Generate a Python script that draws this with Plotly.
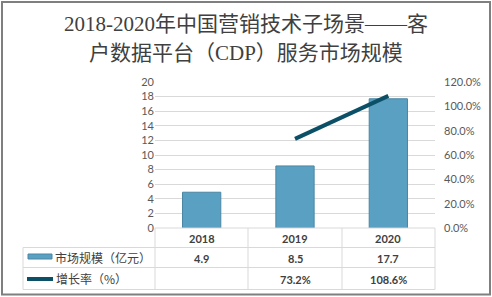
import plotly.graph_objects as go

years = ["2018", "2019", "2020"]
market_size = [4.9, 8.5, 17.7]          # 亿元
growth_rate = [None, 73.2, 108.6]       # %
size_labels = ["4.9", "8.5", "17.7"]
growth_labels = ["", "73.2%", "108.6%"]
left_ticks = list(range(0, 21, 2))
right_ticks = list(range(0, 121, 20))
right_tick_text = ["%.1f%%" % v for v in right_ticks]

W, H = 492, 297
L, R, T, B = 155, 435, 82, 228   # plot area in px

def fx(px):
    return (px - L) / (R - L)

def fy(py):
    return (B - py) / (B - T)

fig = go.Figure()
fig.add_trace(go.Bar(
    x=years, y=market_size, width=0.41,
    marker=dict(color="#5aa0c2", line=dict(color="#4a86a4", width=1)),
    showlegend=False, hoverinfo="skip",
))
fig.add_trace(go.Scatter(
    x=years, y=growth_rate, yaxis="y2", mode="lines",
    line=dict(color="#0c5068", width=4), showlegend=False, hoverinfo="skip",
    connectgaps=False,
))

tick_font = dict(family="Lato, Liberation Sans, sans-serif", size=11, color="#595959")
fig.update_layout(
    width=W, height=H,
    margin=dict(l=L, r=W - R, t=T, b=H - B),
    paper_bgcolor="white", plot_bgcolor="white",
    bargap=0.5,
    xaxis=dict(type="category", range=[-0.5, 2.5], showticklabels=False,
               showgrid=False, zeroline=False, showline=False, ticks=""),
    yaxis=dict(range=[0, 20], tickvals=left_ticks, showgrid=True,
               gridcolor="#d9d9d9", gridwidth=1, zeroline=False,
               showline=False, tickfont=tick_font, ticks="", ticklen=0),
    yaxis2=dict(range=[0, 120], tickvals=right_ticks, ticktext=right_tick_text,
                overlaying="y", side="right", showgrid=False, zeroline=False,
                showline=False, tickfont=tick_font, ticks="", ticklabelstandoff=8),
)

shapes = []
line_col = "#d9d9d9"
# outer border
shapes.append(dict(type="rect", xref="paper", yref="paper",
                   x0=fx(2), x1=fx(490), y0=fy(294.5), y1=fy(2),
                   line=dict(color="#7f7f7f", width=2), fillcolor="rgba(0,0,0,0)", layer="above"))
# table horizontal lines
shapes.append(dict(type="line", xref="paper", yref="paper", x0=fx(L), x1=fx(R), y0=fy(228), y1=fy(228),
                   line=dict(color=line_col, width=1)))
for py in [247.5, 267.5, 289.5]:
    shapes.append(dict(type="line", xref="paper", yref="paper", x0=fx(23), x1=fx(R), y0=fy(py), y1=fy(py),
                       line=dict(color=line_col, width=1)))
shapes.append(dict(type="line", xref="paper", yref="paper", x0=fx(23), x1=fx(23), y0=fy(247.5), y1=fy(289.5),
                   line=dict(color=line_col, width=1)))
for px in [155, 248, 342, 435]:
    shapes.append(dict(type="line", xref="paper", yref="paper", x0=fx(px), x1=fx(px), y0=fy(228), y1=fy(289.5),
                       line=dict(color=line_col, width=1)))
# legend keys
shapes.append(dict(type="rect", xref="paper", yref="paper", x0=fx(28), x1=fx(52), y0=fy(259), y1=fy(254),
                   fillcolor="#5aa0c2", line=dict(color="#4a86a4", width=1)))
shapes.append(dict(type="line", xref="paper", yref="paper", x0=fx(27), x1=fx(53), y0=fy(279), y1=fy(279),
                   line=dict(color="#0c5068", width=4)))
fig.update_layout(shapes=shapes)

ann = []
title_font = dict(family="Liberation Serif, Noto Sans CJK SC, serif", size=21, color="#404040")
ann.append(dict(text="2018-2020年中国营销技术子场景——客", x=fx(246), y=fy(24), xref="paper", yref="paper",
                showarrow=False, font=title_font, xanchor="center", yanchor="middle"))
ann.append(dict(text="户数据平台（CDP）服务市场规模", x=fx(246), y=fy(53), xref="paper", yref="paper",
                showarrow=False, font=title_font, xanchor="center", yanchor="middle"))
cell_font = dict(family="Lato, Noto Sans CJK SC, sans-serif", size=11, color="#404040")
label_font = dict(family="Noto Sans CJK SC, sans-serif", size=12, color="#404040")
n = len(years)
for i, yr in enumerate(years):
    cx = (i + 0.5) / n
    ann.append(dict(text="<b>" + yr + "</b>", x=cx, y=fy(238), xref="paper", yref="paper", showarrow=False,
                    font=cell_font, xanchor="center", yanchor="middle"))
    ann.append(dict(text="<b>" + size_labels[i] + "</b>", x=cx, y=fy(258), xref="paper", yref="paper",
                    showarrow=False, font=cell_font, xanchor="center", yanchor="middle"))
    if growth_labels[i]:
        ann.append(dict(text="<b>" + growth_labels[i] + "</b>", x=cx, y=fy(279), xref="paper", yref="paper",
                        showarrow=False, font=cell_font, xanchor="center", yanchor="middle"))
ann.append(dict(text="市场规模（亿元）", x=fx(53), y=fy(257), xref="paper", yref="paper", showarrow=False,
                font=label_font, xanchor="left", yanchor="middle"))
ann.append(dict(text="增长率（%）", x=fx(54), y=fy(278), xref="paper", yref="paper", showarrow=False,
                font=label_font, xanchor="left", yanchor="middle"))
fig.update_layout(annotations=ann)

fig.write_html("out.html")
